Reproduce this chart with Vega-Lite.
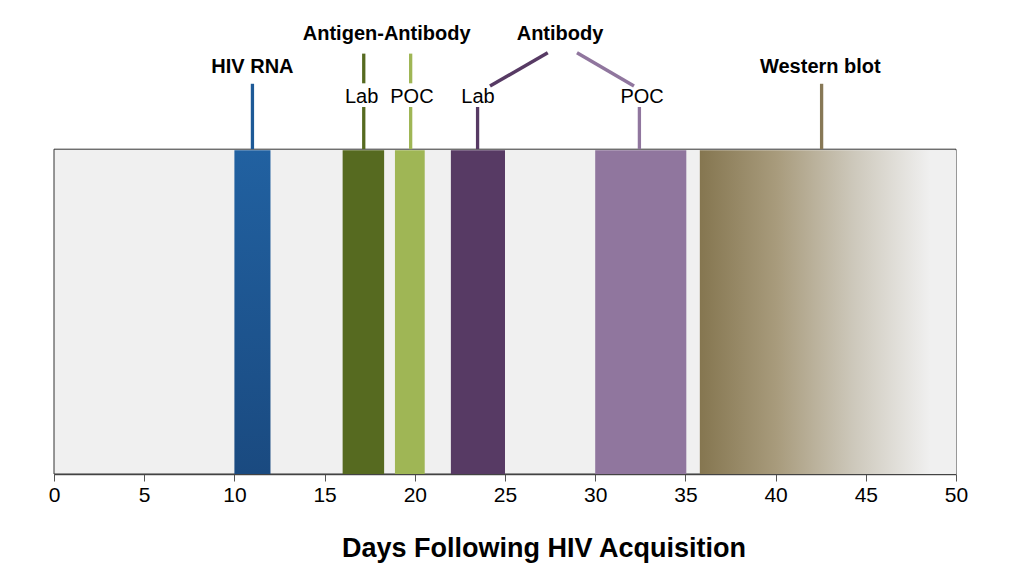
{
  "$schema": "https://vega.github.io/schema/vega-lite/v6.json",
  "width": 902,
  "height": 464,
  "autosize": {"type": "none"},
  "padding": {"left": 54, "top": 10, "right": 58, "bottom": 101},
  "background": "white",
  "config": {
    "font": "Liberation Sans",
    "view": {"stroke": null}
  },
  "datasets": {
    "frame": [{"x0": 0, "x1": 50, "y0": 0, "y1": 70}],
    "bands": [
      {"series": "Ag-Ab Lab", "start": 16.0, "end": 18.3},
      {"series": "Ag-Ab POC", "start": 18.9, "end": 20.55},
      {"series": "Ab Lab", "start": 22.0, "end": 25.0},
      {"series": "Ab POC", "start": 30.0, "end": 35.05}
    ],
    "rna": [{"series": "HIV RNA", "start": 10.0, "end": 12.0}],
    "wb": [{"series": "Western blot", "start": 35.8, "end": 50.0}],
    "stems": [
      {"series": "HIV RNA", "day": 11.0, "low": 70, "high": 84.1},
      {"series": "Ag-Ab Lab", "day": 17.17, "low": 70, "high": 79.1},
      {"series": "Ag-Ab Lab", "day": 17.17, "low": 84.2, "high": 90.6},
      {"series": "Ag-Ab POC", "day": 19.77, "low": 70, "high": 79.1},
      {"series": "Ag-Ab POC", "day": 19.77, "low": 84.2, "high": 90.6},
      {"series": "Ab Lab", "day": 23.48, "low": 70, "high": 79.1},
      {"series": "Ab POC", "day": 32.45, "low": 70, "high": 79.1},
      {"series": "Western blot", "day": 42.55, "low": 70, "high": 84.1}
    ],
    "connectors": [
      {"series": "Ab Lab", "xa": 24.17, "ya": 83.6, "xb": 27.37, "yb": 90.8},
      {"series": "Ab POC", "xa": 28.99, "ya": 90.8, "xb": 32.15, "yb": 83.6}
    ],
    "headings": [
      {"label": "HIV RNA", "day": 11.0, "level": 87.8},
      {"label": "Antigen-Antibody", "day": 18.44, "level": 94.8},
      {"label": "Antibody", "day": 28.05, "level": 94.8},
      {"label": "Western blot", "day": 42.48, "level": 87.7}
    ],
    "sublabels": [
      {"label": "Lab", "day": 17.05, "level": 81.25},
      {"label": "POC", "day": 19.84, "level": 81.25},
      {"label": "Lab", "day": 23.5, "level": 81.25},
      {"label": "POC", "day": 32.6, "level": 81.25}
    ]
  },
  "layer": [
    {
      "data": {"name": "frame"},
      "mark": {"type": "rect", "fill": "#f0f0f0", "stroke": "#333333", "strokeWidth": 1},
      "encoding": {
        "x": {
          "field": "x0", "type": "quantitative",
          "scale": {"domain": [0, 50], "nice": false, "zero": false},
          "axis": {
            "values": [0, 5, 10, 15, 20, 25, 30, 35, 40, 45, 50],
            "title": "Days Following HIV Acquisition",
            "titleFont": "Liberation Sans",
            "titleFontSize": 27,
            "titleFontWeight": "bold",
            "titleColor": "#000000",
            "titleX": 489.5,
            "titleAlign": "center",
            "titlePadding": 30,
            "labelFontSize": 21,
            "labelColor": "#000000",
            "labelPadding": 3,
            "labelFlush": false,
            "domainColor": "#555555",
            "domainWidth": 1.5,
            "tickColor": "#555555",
            "tickSize": 7,
            "grid": false
          }
        },
        "x2": {"field": "x1"},
        "y": {
          "field": "y0", "type": "quantitative",
          "scale": {"domain": [0, 100], "nice": false},
          "axis": null
        },
        "y2": {"field": "y1"}
      }
    },
    {
      "data": {"name": "bands"},
      "mark": {"type": "rect"},
      "encoding": {
        "x": {"field": "start", "type": "quantitative"},
        "x2": {"field": "end"},
        "y": {"datum": 0},
        "y2": {"datum": 69.8},
        "color": {
          "field": "series", "type": "nominal", "legend": null,
          "scale": {
            "domain": ["HIV RNA", "Ag-Ab Lab", "Ag-Ab POC", "Ab Lab", "Ab POC", "Western blot"],
            "range": ["#1e5a97", "#566a20", "#9fb655", "#573a64", "#90769e", "#877856"]
          }
        }
      }
    },
    {
      "data": {"name": "rna"},
      "mark": {
        "type": "rect",
        "fill": {
          "gradient": "linear", "x1": 0, "y1": 0, "x2": 0, "y2": 1,
          "stops": [
            {"offset": 0, "color": "#2161a1"},
            {"offset": 1, "color": "#1a4a80"}
          ]
        }
      },
      "encoding": {
        "x": {"field": "start", "type": "quantitative"},
        "x2": {"field": "end"},
        "y": {"datum": 0},
        "y2": {"datum": 69.8}
      }
    },
    {
      "data": {"name": "wb"},
      "mark": {
        "type": "rect",
        "fill": {
          "gradient": "linear", "x1": 0, "y1": 0, "x2": 1, "y2": 0,
          "stops": [
            {"offset": 0, "color": "#857650"},
            {"offset": 0.3, "color": "#a89b7c"},
            {"offset": 0.6, "color": "#cdc8bb"},
            {"offset": 0.9, "color": "#f0f0f0"},
            {"offset": 1, "color": "#f0f0f0"}
          ]
        }
      },
      "encoding": {
        "x": {"field": "start", "type": "quantitative"},
        "x2": {"field": "end"},
        "y": {"datum": 0},
        "y2": {"datum": 69.8}
      }
    },
    {
      "data": {"name": "stems"},
      "mark": {"type": "rule", "strokeWidth": 3.3},
      "encoding": {
        "x": {"field": "day", "type": "quantitative"},
        "y": {"field": "low", "type": "quantitative"},
        "y2": {"field": "high"},
        "color": {"field": "series", "type": "nominal", "legend": null}
      }
    },
    {
      "data": {"name": "connectors"},
      "mark": {"type": "rule", "strokeWidth": 3.5},
      "encoding": {
        "x": {"field": "xa", "type": "quantitative"},
        "y": {"field": "ya", "type": "quantitative"},
        "x2": {"field": "xb"},
        "y2": {"field": "yb"},
        "color": {"field": "series", "type": "nominal", "legend": null}
      }
    },
    {
      "data": {"name": "headings"},
      "mark": {"type": "text", "fontSize": 20, "fontWeight": "bold", "color": "#000000", "baseline": "middle", "align": "center"},
      "encoding": {
        "x": {"field": "day", "type": "quantitative"},
        "y": {"field": "level", "type": "quantitative"},
        "text": {"field": "label"}
      }
    },
    {
      "data": {"name": "sublabels"},
      "mark": {"type": "text", "fontSize": 20, "color": "#000000", "baseline": "middle", "align": "center"},
      "encoding": {
        "x": {"field": "day", "type": "quantitative"},
        "y": {"field": "level", "type": "quantitative"},
        "text": {"field": "label"}
      }
    }
  ]
}
